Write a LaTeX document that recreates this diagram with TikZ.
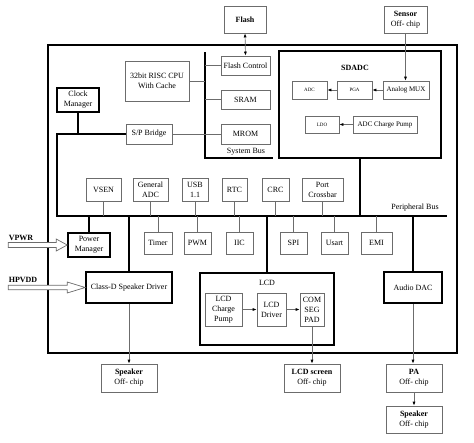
\documentclass[tikz,border=0pt]{standalone}
\usepackage{fontspec}
\setmainfont{Liberation Serif}
\usetikzlibrary{positioning,calc,arrows.meta}

\begin{document}
\begin{tikzpicture}[x=1pt,y=-1pt,
	box/.style={draw=gray!85!black, line width=0.7pt, fill=white, inner sep=1pt, align=center, font=\fontsize{8}{10}\selectfont},
	hbox/.style={draw=black, line width=1.6pt, fill=white, inner sep=1pt, align=center, font=\fontsize{8}{10}\selectfont},
	wire/.style={draw=gray!85!black, line width=0.7pt},
	bus/.style={draw=black, line width=1.6pt},
	link/.style={draw=black, line width=1.1pt},
	arr/.style={-{Latex[length=4pt,width=3pt,color=black]}},
	fat/.style={draw=gray!85!black, line width=0.7pt, fill=white},
	lbl/.style={inner sep=0pt, font=\fontsize{8}{10}\selectfont}]
				\useasboundingbox (0,0) rectangle (474,442);
				\draw[line width=1.8pt] (48,45) rectangle (457,353);
				% off-chip parts on top
				\node[box, minimum width=42, minimum height=27] (flash) at (245,19.5) {\textbf{Flash}};
				\node[box, minimum width=43, minimum height=27] (sensor) at (405.5,19.5) {\textbf{Sensor}\\Off- chip};
				% core and system bus
				\node[box, minimum width=64, minimum height=40] (cpu) at (157,81) {32bit RISC CPU\\With Cache};
				\node[box, minimum width=49, minimum height=19] (fctl) at (245.5,65.5) {Flash Control};
				\node[box, minimum width=49, minimum height=19] (sram) at (245.5,99.5) {SRAM};
				\node[box, minimum width=49, minimum height=20] (mrom) at (245.5,134) {MROM};
				\node[hbox, minimum width=42, minimum height=24] (clk) at (78,100) {Clock\\Manager};
				\node[box, minimum width=46, minimum height=20] (sp) at (149,134) {S/P Bridge};
				\coordinate (sbtop) at (205,52);
				\coordinate (sbend) at (273,158);
				\node[lbl] (sblbl) at (246,152) {System Bus};
				% SDADC
				\node[hbox, minimum width=162, minimum height=107] (sdadc) at (360,104.5) {};
				\node[lbl] (sdlbl) at (355,68) {\textbf{SDADC}};
				\node[box, minimum width=46, minimum height=18, font=\fontsize{7}{8}\selectfont] (mux) at (406,90) {Analog MUX};
				\node[box, minimum width=35, minimum height=18, font=\fontsize{5}{6}\selectfont] (pga) at (354.5,90) {PGA};
				\node[box, minimum width=35, minimum height=18, font=\fontsize{5}{6}\selectfont] (adc) at (309.5,90) {ADC};
				\node[box, minimum width=34, minimum height=17, font=\fontsize{5}{6}\selectfont] (ldo) at (322,124.5) {LDO};
				\node[box, minimum width=64, minimum height=17, font=\fontsize{7}{8}\selectfont] (acp) at (385,124.5) {ADC Charge Pump};
				% peripherals
				\node[box, minimum width=35, minimum height=23] (vsen) at (103.5,189.5) {VSEN};
				\node[box, minimum width=35, minimum height=23] (gadc) at (150.5,189.5) {General\\ADC};
				\node[box, minimum width=26, minimum height=23] (usb) at (195,189.5) {USB\\1.1};
				\node[box, minimum width=25, minimum height=23] (rtc) at (234.5,189.5) {RTC};
				\node[box, minimum width=27, minimum height=23] (crc) at (275.5,189.5) {CRC};
				\node[box, minimum width=41, minimum height=23] (port) at (322.5,189.5) {Port\\Crossbar};
				\node[box, minimum width=28, minimum height=22] (timer) at (158,243) {Timer};
				\node[box, minimum width=27, minimum height=22] (pwm) at (197.5,243) {PWM};
				\node[box, minimum width=27, minimum height=22] (iic) at (239.5,243) {IIC};
				\node[box, minimum width=27, minimum height=22] (spi) at (293.5,243) {SPI};
				\node[box, minimum width=27, minimum height=22] (usart) at (334.5,243) {Usart};
				\node[box, minimum width=31, minimum height=22] (emi) at (376.5,243) {EMI};
				\coordinate (pbl) at (57,216);
				\coordinate (pbr) at (447,216);
				\node[lbl] (pblbl) at (415,208) {Peripheral Bus};
				% power and drivers
				\node[hbox, minimum width=42, minimum height=24] (pwr) at (89,245) {Power\\Manager};
				\node[hbox, minimum width=86, minimum height=31] (classd) at (129,287.5) {Class-D Speaker Driver};
				\node[hbox, minimum width=134, minimum height=72] (lcd) at (267,309) {};
				\node[lbl] (lcdlbl) at (267,283) {LCD};
				\node[box, minimum width=37, minimum height=33] (lcdcp) at (223.5,309.5) {LCD\\Charge\\Pump};
				\node[box, minimum width=29, minimum height=33] (lcddrv) at (271.5,309.5) {LCD\\Driver};
				\node[box, minimum width=24, minimum height=33] (com) at (312,309.5) {COM\\SEG\\PAD};
				\node[hbox, minimum width=58, minimum height=31] (dac) at (413,287.5) {Audio DAC};
				% off-chip parts below
				\node[box, minimum width=56, minimum height=28] (spk) at (129,378) {\textbf{Speaker}\\Off- chip};
				\node[box, minimum width=56, minimum height=28] (scr) at (312,378) {\textbf{LCD screen}\\Off- chip};
				\node[box, minimum width=56, minimum height=28] (pa) at (414,378) {\textbf{PA}\\Off- chip};
				\node[box, minimum width=56, minimum height=27] (spk2) at (414,419.5) {\textbf{Speaker}\\Off- chip};
				\node[lbl, font=\fontsize{8}{10}\selectfont\bfseries] (vpwr) at (21,238) {VPWR};
				\node[lbl, font=\fontsize{8}{10}\selectfont\bfseries] (hpvdd) at (23,280) {HPVDD};
				% buses
				\draw[bus] (sbtop) |- (sbend);
				\draw[bus] (sp.west) -| (pbl) -- (pbr);
				\draw[link] (clk.south) -- (clk.south |- sp.west);
				\draw[wire] (sp.east) -- (mrom.west);
				\draw[wire] (cpu.east) -- (cpu.east -| sbtop);
				\draw[wire] (fctl.west) -- (fctl.west -| sbtop);
				\draw[wire] (sram.west) -- (sram.west -| sbtop);
				\foreach \n in {vsen,gadc,usb,rtc,crc,port}
					\draw[wire] (\n.south) -- (\n.south |- pbl);
				\foreach \n in {timer,pwm,iic,spi,usart,emi}
					\draw[wire] (\n.north) -- (\n.north |- pbl);
				\foreach \n in {pwr,classd,lcd,dac}
					\draw[link] (\n.north) -- (\n.north |- pbl);
				\draw[link] (sdadc.south) -- (sdadc.south |- pbl);
				% signal arrows
				\draw[wire, {Latex[length=4pt,width=3pt,color=black]}-{Latex[length=4pt,width=3pt,color=black]}] (flash.south) -- (fctl.north);
				\draw[wire, arr] (sensor.south) -- (sensor.south |- mux.north);
				\draw[wire, arr] (mux.west) -- (pga.east);
				\draw[wire, arr] (pga.west) -- (adc.east);
				\draw[wire, arr] (acp.west) -- (ldo.east);
				\draw[wire, arr] (lcdcp.east) -- (lcddrv.west);
				\draw[wire, arr] (lcddrv.east) -- (com.west);
				\draw[wire, arr] (classd.south) -- (spk.north);
				\draw[wire, arr] (com.south) -- (com.south |- scr.north);
				\draw[wire, arr] (dac.south) -- (dac.south |- pa.north);
				\draw[wire, arr] (pa.south) -- (spk2.north);
				% supply inputs
				\draw[fat] (pwr.west) -- ++(-11,-6) -- ++(0,3.5) -- ++(-48,0) -- ++(0,5) -- ++(48,0) -- ++(0,3.5) -- cycle;
				\draw[fat] (classd.west) -- ++(-18,-5.5) -- ++(0,3.2) -- ++(-59,0) -- ++(0,4.6) -- ++(59,0) -- ++(0,3.2) -- cycle;
\end{tikzpicture}
\end{document}
